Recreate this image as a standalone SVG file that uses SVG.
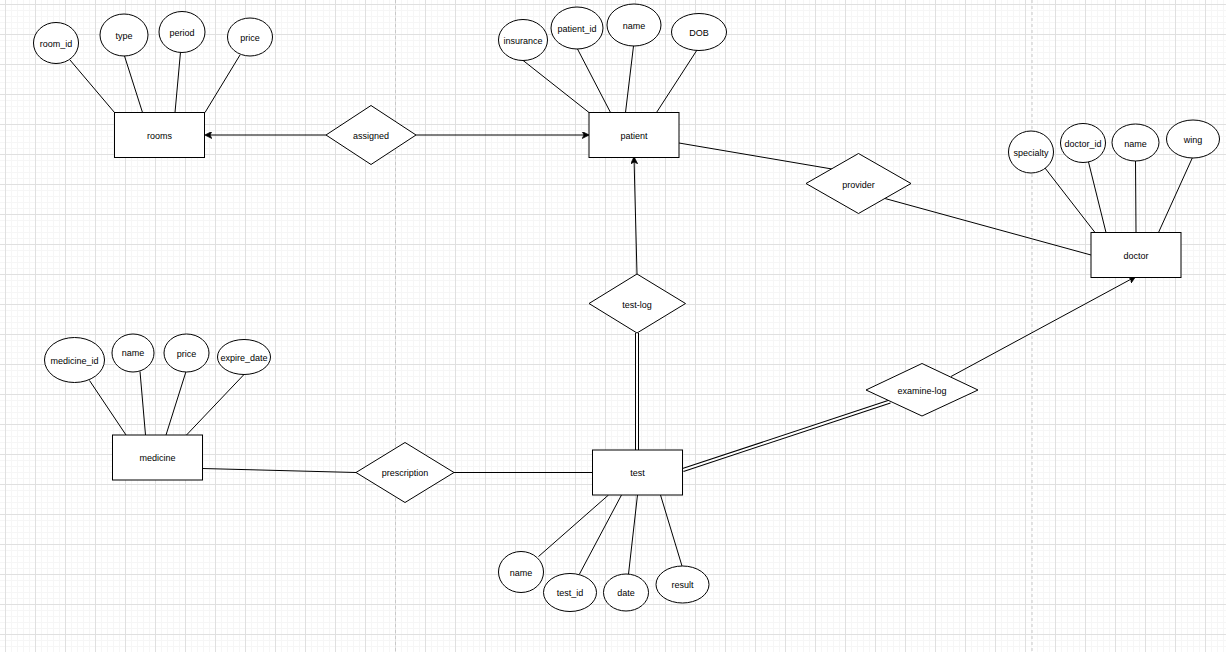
<svg xmlns="http://www.w3.org/2000/svg" width="1226" height="652" viewBox="0 0 1226 652">
<style>
.ent{fill:#fff;stroke:#000;stroke-width:1}
.att{fill:#fff;stroke:#000;stroke-width:1}
.rel{fill:#fff;stroke:#000;stroke-width:1}
.ln{fill:none;stroke:#000;stroke-width:1}
.dbl-o{fill:none;stroke:#000;stroke-width:4}
.dbl-i{fill:none;stroke:#fff;stroke-width:2}
text{font-family:"Liberation Sans",Arial,Helvetica,sans-serif;font-size:9px;fill:#000;text-anchor:middle;dominant-baseline:central}
.sep{stroke:#c8c8c8;stroke-width:1;stroke-dasharray:3 3}
</style>
<defs>
<pattern id="minor" patternUnits="userSpaceOnUse" x="5" y="4" width="6" height="6">
<path d="M0 0.5H6M0.5 0V6" fill="none" stroke="#f6f6f6" stroke-width="1"/>
</pattern>
<pattern id="major" patternUnits="userSpaceOnUse" x="5" y="4" width="30" height="30">
<path d="M0 0.5H30M0.5 0V30" fill="none" stroke="#e0e0e0" stroke-width="1"/>
</pattern>
<marker id="arr" viewBox="0 0 10 10" refX="9" refY="5" markerWidth="7" markerHeight="7" orient="auto" markerUnits="userSpaceOnUse">
<path d="M0 0L10 5L0 10L2.5 5Z" fill="#000" stroke="#000" stroke-width="1"/>
</marker>
</defs>
<rect width="1226" height="652" fill="#fff"/>
<rect width="1226" height="652" fill="url(#minor)"/>
<rect width="1226" height="652" fill="url(#major)"/>
<line class="sep" x1="395.5" y1="0" x2="395.5" y2="652"/>
<line class="sep" x1="1032" y1="0" x2="1032" y2="652"/>

<g id="connectors">
<line class="ln" x1="70" y1="60" x2="114.5" y2="112.5"/>
<line class="ln" x1="124.5" y1="56" x2="142.5" y2="112.5"/>
<line class="ln" x1="180.5" y1="52" x2="175" y2="112.5"/>
<line class="ln" x1="240" y1="55" x2="205" y2="112.5"/>
<line class="ln" x1="326" y1="135" x2="205.5" y2="135" marker-end="url(#arr)"/>
<line class="ln" x1="416" y1="135" x2="588.5" y2="135" marker-end="url(#arr)"/>
<line class="ln" x1="522.5" y1="60" x2="589" y2="112.5"/>
<line class="ln" x1="577.5" y1="49" x2="610.5" y2="112.5"/>
<line class="ln" x1="633.5" y1="46" x2="625.5" y2="112.5"/>
<line class="ln" x1="697" y1="50" x2="656.5" y2="112.5"/>
<line class="ln" x1="679" y1="143" x2="832" y2="169"/>
<line class="ln" x1="885" y1="198.5" x2="1091" y2="255"/>
<line class="ln" x1="1045" y1="168" x2="1095" y2="232.5"/>
<line class="ln" x1="1088.5" y1="162" x2="1106" y2="232.5"/>
<line class="ln" x1="1135.5" y1="161" x2="1136" y2="232.5"/>
<line class="ln" x1="1192.5" y1="157.5" x2="1158.5" y2="232.5"/>
<line class="ln" x1="637" y1="274" x2="634" y2="157.5" marker-end="url(#arr)"/>
<line class="dbl-o" x1="637" y1="333" x2="637" y2="450"/>
<line class="dbl-i" x1="637" y1="333" x2="637" y2="450"/>
<line class="dbl-o" x1="683" y1="470" x2="890" y2="401.5"/>
<line class="dbl-i" x1="683" y1="470" x2="890" y2="401.5"/>
<line class="ln" x1="951" y1="376.5" x2="1135" y2="277" marker-end="url(#arr)"/>
<line class="ln" x1="89.5" y1="380.5" x2="126" y2="435"/>
<line class="ln" x1="140" y1="371.5" x2="145.5" y2="435"/>
<line class="ln" x1="186" y1="371.5" x2="166" y2="435"/>
<line class="ln" x1="244" y1="374.5" x2="186.5" y2="435"/>
<line class="ln" x1="202.5" y1="468.5" x2="356" y2="472.5"/>
<line class="ln" x1="454" y1="472.5" x2="592.5" y2="472.5"/>
<line class="ln" x1="538.5" y1="556.5" x2="608.5" y2="495"/>
<line class="ln" x1="579.5" y1="574" x2="621.5" y2="495"/>
<line class="ln" x1="628.5" y1="574" x2="637.5" y2="495"/>
<line class="ln" x1="682" y1="566" x2="660.5" y2="495"/>
</g>

<g id="rooms"><rect class="ent" x="114.5" y="112.5" width="90" height="45"/><text x="159.5" y="135.5">rooms</text></g>
<g id="rooms-room_id"><ellipse class="att" cx="56" cy="43" rx="22.5" ry="20.5"/><text x="56" y="44">room_id</text></g>
<g id="rooms-type"><ellipse class="att" cx="124" cy="35" rx="24" ry="21"/><text x="124" y="36">type</text></g>
<g id="rooms-period"><ellipse class="att" cx="182" cy="32" rx="23" ry="20.5"/><text x="182" y="33">period</text></g>
<g id="rooms-price"><ellipse class="att" cx="250" cy="37" rx="22.5" ry="19"/><text x="250" y="38">price</text></g>

<g id="assigned"><path class="rel" d="M371 105.5L416 135L371 164.5L326 135Z"/><text x="371" y="136">assigned</text></g>

<g id="patient"><rect class="ent" x="589" y="112.5" width="90" height="45"/><text x="634" y="136">patient</text></g>
<g id="patient-insurance"><ellipse class="att" cx="523" cy="40" rx="24.5" ry="20.5"/><text x="523" y="41">insurance</text></g>
<g id="patient-patient_id"><ellipse class="att" cx="577" cy="28" rx="26" ry="21"/><text x="577" y="29">patient_id</text></g>
<g id="patient-name"><ellipse class="att" cx="634" cy="25" rx="27" ry="21"/><text x="634" y="26">name</text></g>
<g id="patient-DOB"><ellipse class="att" cx="699" cy="32" rx="27.5" ry="18.5"/><text x="699" y="33">DOB</text></g>

<g id="provider"><path class="rel" d="M858.5 153.5L911 183.5L858.5 213.5L806 183.5Z"/><text x="858.5" y="184.5">provider</text></g>

<g id="doctor"><rect class="ent" x="1091" y="232.5" width="90" height="45"/><text x="1136" y="256">doctor</text></g>
<g id="doctor-specialty"><ellipse class="att" cx="1031" cy="152" rx="22.5" ry="21"/><text x="1031" y="153">specialty</text></g>
<g id="doctor-doctor_id"><ellipse class="att" cx="1083" cy="143" rx="22.5" ry="19.5"/><text x="1083" y="144">doctor_id</text></g>
<g id="doctor-name"><ellipse class="att" cx="1135.5" cy="142.5" rx="23.5" ry="18.5"/><text x="1135.5" y="143.5">name</text></g>
<g id="doctor-wing"><ellipse class="att" cx="1193" cy="139" rx="26.5" ry="19"/><text x="1193" y="140">wing</text></g>

<g id="test-log"><path class="rel" d="M637 274L685.5 303.5L637 333L589 303.5Z"/><text x="637" y="305">test-log</text></g>

<g id="examine-log"><path class="rel" d="M922 363.5L978 390L922 416L866 390Z"/><text x="922" y="391">examine-log</text></g>

<g id="medicine"><rect class="ent" x="112.5" y="435" width="90" height="45"/><text x="157.5" y="458">medicine</text></g>
<g id="medicine-medicine_id"><ellipse class="att" cx="74.5" cy="360" rx="30" ry="22.5"/><text x="74.5" y="361">medicine_id</text></g>
<g id="medicine-name"><ellipse class="att" cx="133" cy="353" rx="21" ry="19"/><text x="133" y="353">name</text></g>
<g id="medicine-price"><ellipse class="att" cx="186.5" cy="353" rx="22.5" ry="19"/><text x="186.5" y="353.5">price</text></g>
<g id="medicine-expire_date"><ellipse class="att" cx="244" cy="357" rx="26.5" ry="17.5"/><text x="244" y="357.5">expire_date</text></g>

<g id="prescription"><path class="rel" d="M405 442.5L454 472.5L405 502.5L356 472.5Z"/><text x="405" y="473">prescription</text></g>

<g id="test"><rect class="ent" x="592.5" y="450" width="90" height="45"/><text x="637.5" y="473">test</text></g>
<g id="test-name"><ellipse class="att" cx="521" cy="572" rx="22.5" ry="20.5"/><text x="521" y="573">name</text></g>
<g id="test-test_id"><ellipse class="att" cx="570" cy="592.5" rx="26.5" ry="19"/><text x="570" y="593">test_id</text></g>
<g id="test-date"><ellipse class="att" cx="626" cy="592.5" rx="22.5" ry="18.5"/><text x="626" y="593">date</text></g>
<g id="test-result"><ellipse class="att" cx="682.5" cy="584.5" rx="26.5" ry="18.5"/><text x="682.5" y="585">result</text></g>
</svg>
